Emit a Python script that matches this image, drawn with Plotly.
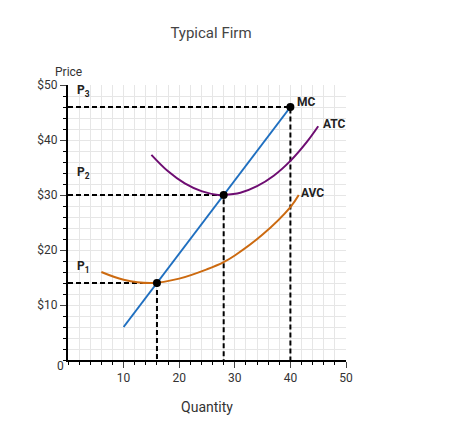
import plotly.graph_objects as go

mc_x = [10, 40]
mc_y = [6, 46]
atc_x = [15, 18, 21, 24, 27, 28, 31, 34, 37, 40, 43, 45]
atc_y = [37.3, 34.3, 32.1, 30.7, 30.0, 30.0, 30.4, 31.6, 33.5, 36.2, 39.7, 42.5]
avc_x = [6, 10, 15, 20, 25, 28, 30, 35, 40, 41.5]
avc_y = [16, 14.6, 14, 14.8, 16.5, 17.8, 19, 22.8, 27.8, 30]
pts_x = [16, 28, 40]
pts_y = [14, 30, 46]
plabels = ["P<sub>1</sub>", "P<sub>2</sub>", "P<sub>3</sub>"]
plabel_y = [17, 34, 49]

fig = go.Figure()
for px, py in zip(pts_x, pts_y):
    fig.add_trace(go.Scatter(x=[0, px, px], y=[py, py, 0], mode="lines",
                             line=dict(color="black", width=2, dash="5px,3px"), hoverinfo="skip"))
fig.add_trace(go.Scatter(x=avc_x, y=avc_y, mode="lines", line=dict(color="#cc6a10", width=2, shape="spline")))
fig.add_trace(go.Scatter(x=atc_x, y=atc_y, mode="lines", line=dict(color="#6e0d72", width=2, shape="spline")))
fig.add_trace(go.Scatter(x=mc_x, y=mc_y, mode="lines", line=dict(color="#1f6fc0", width=2)))
fig.add_trace(go.Scatter(x=pts_x, y=pts_y, mode="markers", marker=dict(color="black", size=8)))

font = dict(family="Roboto", size=12, color="#333")
bold = dict(family="Roboto", size=12, color="#222")
for lab, ly in zip(plabels, plabel_y):
    fig.add_annotation(x=1.2, y=ly, text="<b>"+lab+"</b>", showarrow=False, xanchor="left", font=bold)
fig.add_annotation(x=40.8, y=47, text="<b>MC</b>", showarrow=False, xanchor="left", font=bold)
fig.add_annotation(x=45.5, y=43, text="<b>ATC</b>", showarrow=False, xanchor="left", font=bold)
fig.add_annotation(x=41.5, y=30.3, text="<b>AVC</b>", showarrow=False, xanchor="left", font=bold)
fig.add_annotation(x=0, xref="paper", y=0, yref="paper", xshift=-8, yshift=-6,
                   text="0", showarrow=False, xanchor="center", yanchor="middle", font=font)

grid = "#e6e6e6"
fig.update_layout(
    width=449, height=436, showlegend=False, plot_bgcolor="white", paper_bgcolor="white",
    margin=dict(l=60, r=111, t=77, b=84),
    title=dict(text="Typical Firm", x=203/449, xanchor="center", y=1-25/436, yanchor="middle",
               font=dict(family="Roboto", size=15, color="#444")),
    font=font,
    xaxis=dict(range=[0, 50], tickvals=[10, 20, 30, 40, 50], showgrid=False,
               showline=True, linecolor="black", linewidth=2, ticks="outside", ticklen=6,
               minor=dict(dtick=2, showgrid=True, gridcolor=grid, ticks="outside", ticklen=3, tickcolor="black"),
               zeroline=False, title=dict(text="Quantity", standoff=18)),
    yaxis=dict(range=[0, 50], tickvals=[10, 20, 30, 40, 50], ticktext=["$10", "$20", "$30", "$40", "$50"],
               showgrid=False, showline=True, linecolor="black", linewidth=2, ticks="outside", ticklen=6,
               minor=dict(dtick=2, showgrid=True, gridcolor=grid, ticks="outside", ticklen=3, tickcolor="black"),
               zeroline=False),
)
fig.add_annotation(x=0, xref="paper", xanchor="center", y=1, yref="paper", yshift=22,
                   text="Price", showarrow=False, font=font)
fig.write_html("out.html")
